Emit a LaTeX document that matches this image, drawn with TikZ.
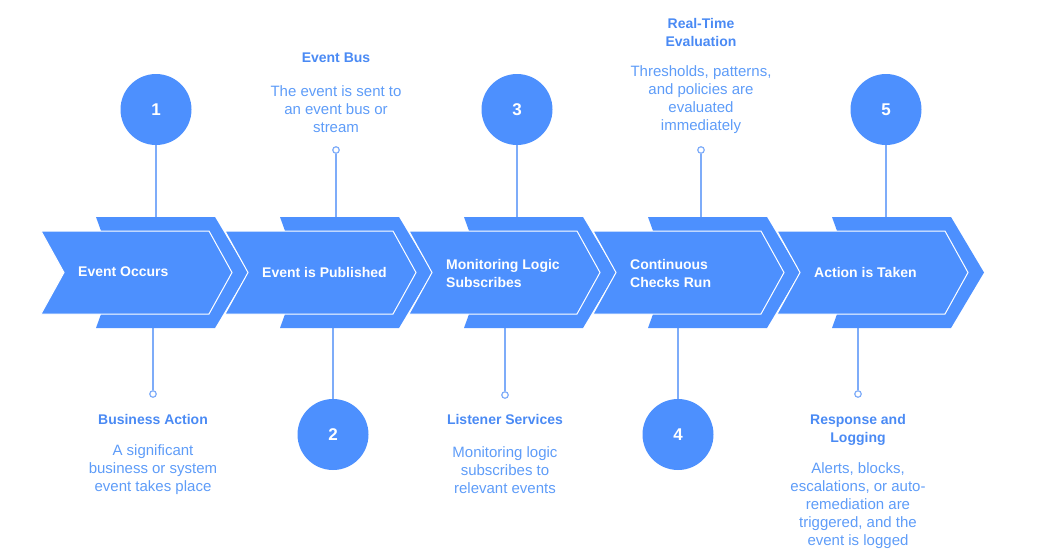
\documentclass[tikz,border=0pt]{standalone}
\usepackage{fontspec}
\setmainfont{Liberation Sans}
\definecolor{stepblue}{HTML}{4D90FE}
\definecolor{linkblue}{HTML}{7EACF9}
\definecolor{headblue}{HTML}{4A8AF4}
\definecolor{textblue}{HTML}{5E9CF8}
\tikzset{
  backarrow/.style={fill=stepblue},
  frontarrow/.style={fill=stepblue,draw=white,line width=1pt},
  num/.style={circle,fill=stepblue,minimum size=71pt,inner sep=0pt,text=white,font=\fontsize{17}{20}\selectfont\bfseries},
  pin/.style={circle,draw=linkblue,fill=white,line width=1.2pt,minimum size=6.5pt,inner sep=0pt},
  link/.style={draw=linkblue,line width=1.5pt},
  steptext/.style={text=white,font=\fontsize{14}{18}\selectfont\bfseries,align=left,anchor=west,inner sep=0pt},
  head/.style={text=headblue,font=\fontsize{14}{18}\selectfont\bfseries,align=center},
  desc/.style={text=textblue,font=\fontsize{15}{18}\selectfont,align=center}
}
\begin{document}
\begin{tikzpicture}[x=1pt,y=-1pt]
\useasboundingbox (0,0) rectangle (1047,552);

%
% numbered circles and pins
%
\node (num1) [num] at (156,109.5) {1};
\node (num2) [num] at (333,434.5) {2};
\node (num3) [num] at (517,109.5) {3};
\node (num4) [num] at (678,434.5) {4};
\node (num5) [num] at (886,109.5) {5};

\node (pin1) [pin] at (153,394) {};
\node (pin2) [pin] at (336,150) {};
\node (pin3) [pin] at (505,395) {};
\node (pin4) [pin] at (701,150) {};
\node (pin5) [pin] at (858,394) {};

\coordinate (top1) at (156,217); \coordinate (bot1) at (153,328);
\coordinate (top2) at (336,217); \coordinate (bot2) at (333,328);
\coordinate (top3) at (517,217); \coordinate (bot3) at (505,328);
\coordinate (top4) at (701,217); \coordinate (bot4) at (678,328);
\coordinate (top5) at (886,217); \coordinate (bot5) at (858,328);

\draw[link] (num1) -- (top1); \draw[link] (bot1) -- (pin1);
\draw[link] (pin2) -- (top2); \draw[link] (bot2) -- (num2);
\draw[link] (num3) -- (top3); \draw[link] (bot3) -- (pin3);
\draw[link] (pin4) -- (top4); \draw[link] (bot4) -- (num4);
\draw[link] (num5) -- (top5); \draw[link] (bot5) -- (pin5);

%
% chevrons, back and front
%
\foreach \k in {0,...,4} {
  \pgfmathsetmacro\ox{96+184*\k}
  \pgfmathsetmacro\fx{41+184*\k}
  \fill[backarrow] (\ox,217) -- ++(119,0) -- ++(33,55.5) -- ++(-33,55.5) -- ++(-119,0) -- ++(20,-55.5) -- cycle;
  \draw[frontarrow] (\fx,231) -- ++(168,0) -- ++(23,41.5) -- ++(-23,41.5) -- ++(-168,0) -- ++(23,-41.5) -- cycle;
}

\node (lab1) [steptext] at (78,272) {Event Occurs};
\node (lab2) [steptext] at (262,272) {Event is Published};
\node (lab3) [steptext] at (446,273) {Monitoring Logic\\Subscribes};
\node (lab4) [steptext] at (630,273) {Continuous\\Checks Run};
\node (lab5) [steptext] at (814,272) {Action is Taken};

%
% texts
%
\node (head1) [head] at (153,419) {Business Action};
\node (desc1) [desc] at (153,470) {A significant\\business or system\\event takes place};

\node (head2) [head] at (336,58) {Event Bus};
\node (desc2) [desc] at (336,109) {The event is sent to\\an event bus or\\stream};

\node (head3) [head] at (505,419) {Listener Services};
\node (desc3) [desc] at (505,470) {Monitoring logic\\subscribes to\\relevant events};

\node (head4) [head] at (701,32.5) {Real-Time\\Evaluation};
\node (desc4) [desc] at (701,100) {Thresholds, patterns,\\and policies are\\evaluated\\immediately};

\node (head5) [head] at (858,430) {Response and\\Logging};
\node (desc5) [desc] at (858,505.5) {Alerts, blocks,\\escalations, or auto-\\remediation are\\triggered, and the\\event is logged};

\end{tikzpicture}
\end{document}
